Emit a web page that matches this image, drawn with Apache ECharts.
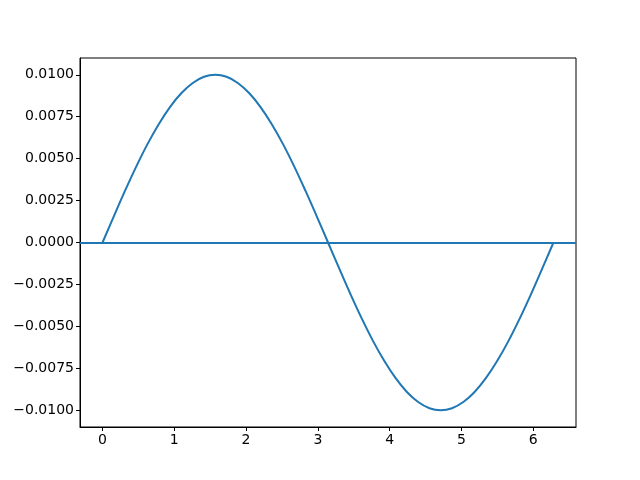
<!DOCTYPE html>
<html>
<head>
<meta charset="utf-8">
<script src="https://cdn.jsdelivr.net/npm/echarts@6/dist/echarts.min.js"></script>
<style>
  html, body { margin: 0; padding: 0; background: #fff; }
  #chart { width: 640px; height: 480px; }
</style>
</head>
<body>
<div id="chart"></div>
<script>
// values
var xs = [0, 0.157, 0.314, 0.471, 0.628, 0.785, 0.942, 1.100, 1.257, 1.414, 1.571,
          1.728, 1.885, 2.042, 2.199, 2.356, 2.513, 2.670, 2.827, 2.985, 3.142,
          3.299, 3.456, 3.613, 3.770, 3.927, 4.084, 4.241, 4.398, 4.555, 4.712,
          4.869, 5.027, 5.184, 5.341, 5.498, 5.655, 5.812, 5.969, 6.126, 6.283];
var ys = [0, 0.00156, 0.00309, 0.00454, 0.00588, 0.00707, 0.00809, 0.00891, 0.00951, 0.00988, 0.01,
          0.00988, 0.00951, 0.00891, 0.00809, 0.00707, 0.00588, 0.00454, 0.00309, 0.00156, 0,
          -0.00156, -0.00309, -0.00454, -0.00588, -0.00707, -0.00809, -0.00891, -0.00951, -0.00988, -0.01,
          -0.00988, -0.00951, -0.00891, -0.00809, -0.00707, -0.00588, -0.00454, -0.00309, -0.00156, 0];
var xTicks = [0, 1, 2, 3, 4, 5, 6];
var yTicks = [-0.01, -0.0075, -0.005, -0.0025, 0, 0.0025, 0.005, 0.0075, 0.01];
var hLine = 0;

var lineColor = '#1f77b4';
var pts = [];
for (var i = 0; i < xs.length; i++) {
    pts.push([xs[i], ys[i]]);
}

var tickStyle = { show: true, inside: false, length: 4, lineStyle: { color: '#000', width: 1 } };
var labelFont = { color: '#000', fontSize: 14, fontFamily: 'DejaVu Sans' };

var option = {
    animation: false,
    grid: {
        left: 80, right: 64, top: 58, bottom: 53,
        show: true, borderColor: '#000', borderWidth: 1, backgroundColor: '#fff'
    },
    xAxis: {
        type: 'value',
        min: -0.314, max: 6.597,
        splitLine: { show: false },
        axisLine: { show: true, onZero: false, lineStyle: { color: '#000' } },
        axisTick: Object.assign({ customValues: xTicks }, tickStyle),
        axisLabel: Object.assign({ customValues: xTicks, margin: 6,
            formatter: function (v) { return String(Math.round(v)); } }, labelFont)
    },
    yAxis: {
        type: 'value',
        min: -0.011, max: 0.011,
        splitLine: { show: false },
        axisLine: { show: true, onZero: false, lineStyle: { color: '#000' } },
        axisTick: Object.assign({ customValues: yTicks }, tickStyle),
        axisLabel: Object.assign({ customValues: yTicks, margin: 6,
            formatter: function (v) { return v.toFixed(4).replace('-', '\u2212'); } }, labelFont)
    },
    series: [{
        type: 'line',
        data: pts,
        smooth: 0.4,
        showSymbol: false,
        lineStyle: { color: lineColor, width: 2 },
        markLine: {
            silent: true,
            symbol: ['none', 'none'],
            label: { show: false },
            lineStyle: { color: lineColor, width: 2, type: 'solid' },
            data: [{ yAxis: hLine }]
        }
    }]
};

var chart = echarts.init(document.getElementById('chart'));
chart.setOption(option);
</script>
</body>
</html>
